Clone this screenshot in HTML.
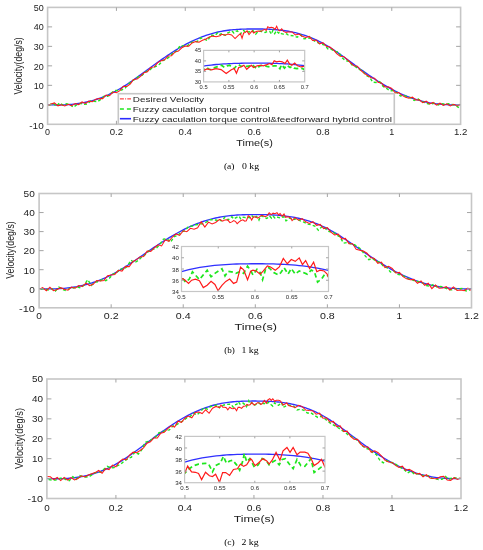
<!DOCTYPE html>
<html><head><meta charset="utf-8"><title>Velocity plots</title>
<style>html,body{margin:0;padding:0;background:#fff;width:483px;height:550px;overflow:hidden}svg{display:block}text{fill:#1c1c1c}</style>
</head><body>
<svg width="483" height="550" viewBox="0 0 483 550">
<rect width="483" height="550" fill="#fff"/>
<clipPath id="c1"><rect x="47.60" y="7.40" width="413.00" height="116.90"/></clipPath>
<g clip-path="url(#c1)">
<path d="M47.60,104.70 L49.32,104.79 L51.04,104.86 L52.76,104.91 L54.48,104.95 L56.20,104.98 L57.92,104.99 L59.65,104.98 L61.37,104.95 L63.09,104.90 L64.81,104.83 L66.53,104.75 L68.25,104.64 L69.97,104.51 L71.69,104.36 L73.41,104.18 L75.13,103.99 L76.85,103.76 L78.58,103.52 L80.30,103.25 L82.02,102.95 L83.74,102.62 L85.46,102.27 L87.18,101.89 L88.90,101.49 L90.62,101.05 L92.34,100.58 L94.06,100.09 L95.78,99.56 L97.50,99.01 L99.22,98.42 L100.95,97.80 L102.67,97.15 L104.39,96.47 L106.11,95.75 L107.83,95.00 L109.55,94.22 L111.27,93.40 L112.99,92.55 L114.71,91.66 L116.43,90.73 L118.15,89.77 L119.88,88.77 L121.60,87.74 L123.32,86.68 L125.04,85.59 L126.76,84.48 L128.48,83.34 L130.20,82.18 L131.92,81.00 L133.64,79.80 L135.36,78.59 L137.08,77.36 L138.80,76.12 L140.53,74.87 L142.25,73.61 L143.97,72.35 L145.69,71.09 L147.41,69.82 L149.13,68.55 L150.85,67.29 L152.57,66.03 L154.29,64.78 L156.01,63.54 L157.73,62.30 L159.45,61.08 L161.18,59.86 L162.90,58.66 L164.62,57.46 L166.34,56.29 L168.06,55.13 L169.78,53.98 L171.50,52.85 L173.22,51.75 L174.94,50.66 L176.66,49.59 L178.38,48.54 L180.10,47.52 L181.82,46.52 L183.55,45.55 L185.27,44.60 L186.99,43.68 L188.71,42.79 L190.43,41.93 L192.15,41.09 L193.87,40.29 L195.59,39.51 L197.31,38.76 L199.03,38.04 L200.75,37.34 L202.47,36.68 L204.20,36.05 L205.92,35.44 L207.64,34.86 L209.36,34.32 L211.08,33.80 L212.80,33.31 L214.52,32.85 L216.24,32.43 L217.96,32.03 L219.68,31.66 L221.40,31.32 L223.12,31.01 L224.85,30.73 L226.57,30.48 L228.29,30.25 L230.01,30.04 L231.73,29.86 L233.45,29.69 L235.17,29.55 L236.89,29.43 L238.61,29.32 L240.33,29.24 L242.05,29.16 L243.78,29.10 L245.50,29.05 L247.22,29.02 L248.94,28.99 L250.66,28.97 L252.38,28.96 L254.10,28.96 L255.82,28.96 L257.54,28.97 L259.26,28.98 L260.98,29.00 L262.70,29.03 L264.43,29.07 L266.15,29.13 L267.87,29.19 L269.59,29.27 L271.31,29.36 L273.03,29.47 L274.75,29.59 L276.47,29.73 L278.19,29.89 L279.91,30.07 L281.63,30.27 L283.35,30.49 L285.08,30.73 L286.80,31.00 L288.52,31.29 L290.24,31.60 L291.96,31.94 L293.68,32.31 L295.40,32.71 L297.12,33.13 L298.84,33.59 L300.56,34.07 L302.28,34.58 L304.00,35.13 L305.73,35.70 L307.45,36.31 L309.17,36.95 L310.89,37.63 L312.61,38.33 L314.33,39.08 L316.05,39.85 L317.77,40.67 L319.49,41.52 L321.21,42.41 L322.93,43.34 L324.65,44.30 L326.38,45.30 L328.10,46.34 L329.82,47.41 L331.54,48.51 L333.26,49.63 L334.98,50.78 L336.70,51.95 L338.42,53.14 L340.14,54.35 L341.86,55.58 L343.58,56.82 L345.30,58.07 L347.03,59.33 L348.75,60.59 L350.47,61.86 L352.19,63.13 L353.91,64.41 L355.63,65.67 L357.35,66.93 L359.07,68.19 L360.79,69.44 L362.51,70.67 L364.23,71.90 L365.95,73.11 L367.68,74.32 L369.40,75.51 L371.12,76.68 L372.84,77.84 L374.56,78.98 L376.28,80.11 L378.00,81.22 L379.72,82.31 L381.44,83.37 L383.16,84.42 L384.88,85.45 L386.60,86.45 L388.33,87.43 L390.05,88.38 L391.77,89.30 L393.49,90.20 L395.21,91.08 L396.93,91.92 L398.65,92.74 L400.37,93.53 L402.09,94.30 L403.81,95.03 L405.53,95.74 L407.25,96.43 L408.98,97.08 L410.70,97.71 L412.42,98.31 L414.14,98.88 L415.86,99.42 L417.58,99.94 L419.30,100.43 L421.02,100.89 L422.74,101.33 L424.46,101.73 L426.18,102.11 L427.90,102.46 L429.63,102.79 L431.35,103.08 L433.07,103.35 L434.79,103.60 L436.51,103.82 L438.23,104.02 L439.95,104.20 L441.67,104.35 L443.39,104.49 L445.11,104.60 L446.83,104.69 L448.55,104.77 L450.28,104.83 L452.00,104.86 L453.72,104.89 L455.44,104.89 L457.16,104.89 L458.88,104.86 L460.60,104.83" stroke="#3030ff" stroke-width="1.35" fill="none"/>
<path d="M49.32,105.50 L52.76,102.73 L56.20,106.17 L59.65,102.85 L63.09,105.18 L66.53,103.74 L69.97,104.71 L73.41,107.23 L76.85,104.80 L80.30,103.38 L83.74,104.45 L87.18,103.99 L90.62,101.09 L94.06,101.41 L97.50,101.66 L100.95,99.25 L104.39,96.06 L107.83,96.27 L111.27,92.97 L114.71,90.54 L118.15,90.53 L121.60,89.97 L125.04,88.07 L128.48,84.29 L131.92,80.87 L135.36,79.25 L138.80,76.48 L142.25,75.23 L145.69,71.83 L149.13,70.28 L152.57,67.63 L156.01,66.37 L159.45,64.30 L162.90,60.60 L166.34,59.05 L169.78,56.61 L173.22,52.43 L176.66,51.28 L180.10,45.55 L183.55,46.07 L186.99,46.17 L190.43,42.74 L193.87,41.67 L197.31,41.47 L200.75,37.91 L204.20,38.99 L207.64,40.68 L211.08,34.97 L214.52,35.83 L217.96,32.50 L219.95,34.62 L221.88,33.03 L223.44,34.62 L225.37,35.15 L227.31,33.03 L230.03,31.98 L231.97,30.92 L233.90,33.03 L235.84,31.45 L237.39,30.92 L239.33,33.03 L240.50,34.09 L242.05,31.45 L243.60,30.39 L245.15,31.98 L246.70,31.45 L249.03,31.98 L251.35,31.45 L252.90,30.39 L255.74,34.09 L258.06,31.45 L260.39,30.92 L262.72,31.98 L265.04,32.50 L267.37,31.45 L269.70,31.45 L271.63,34.09 L272.80,30.39 L274.74,33.56 L276.29,30.92 L278.61,33.03 L279.78,31.98 L281.33,33.56 L283.27,34.09 L285.21,33.56 L287.14,34.09 L288.31,35.15 L293.68,35.86 L297.12,37.21 L300.56,34.68 L304.00,38.84 L307.45,38.34 L310.89,38.01 L314.33,40.98 L317.77,42.70 L321.21,44.10 L324.65,45.01 L328.10,49.03 L331.54,49.42 L334.98,51.71 L338.42,51.88 L341.86,57.56 L345.30,60.72 L348.75,61.19 L352.19,65.09 L355.63,66.75 L359.07,69.42 L362.51,70.60 L365.95,75.25 L369.40,76.91 L372.84,82.23 L376.28,82.43 L379.72,81.61 L383.16,86.41 L386.60,88.43 L390.05,90.96 L393.49,90.55 L396.93,92.72 L400.37,95.98 L403.81,95.17 L407.25,97.02 L410.70,97.67 L414.14,100.52 L417.58,98.62 L421.02,101.17 L424.46,102.62 L427.90,103.81 L431.35,104.06 L434.79,103.19 L438.23,104.96 L441.67,103.61 L445.11,104.43 L448.55,103.63 L452.00,104.34 L455.44,105.41 L458.88,107.61" stroke="#1ee61e" stroke-width="1.4" fill="none" stroke-dasharray="3,2.2"/>
<path d="M47.60,105.56 L51.04,103.98 L54.48,102.92 L57.92,105.85 L61.37,104.71 L64.81,105.90 L68.25,104.27 L71.69,105.72 L75.13,103.49 L78.58,104.56 L82.02,101.96 L85.46,103.39 L88.90,101.16 L92.34,101.72 L95.78,99.16 L99.22,98.46 L102.67,98.60 L106.11,94.99 L109.55,95.75 L112.99,92.03 L116.43,92.73 L119.88,90.69 L123.32,86.26 L126.76,86.43 L130.20,84.17 L133.64,79.50 L137.08,79.06 L140.53,76.46 L143.97,72.64 L147.41,71.71 L150.85,67.58 L154.29,66.89 L157.73,62.57 L161.18,60.76 L164.62,59.77 L168.06,55.99 L171.50,55.70 L174.94,52.10 L178.38,51.08 L181.82,47.77 L185.27,46.10 L188.71,46.24 L192.15,42.92 L195.59,41.61 L199.03,42.16 L202.47,40.21 L205.92,39.06 L209.36,36.98 L212.80,36.11 L216.24,36.72 L219.95,35.67 L221.88,34.30 L224.99,35.15 L228.09,34.09 L231.58,34.94 L235.07,38.53 L238.56,35.15 L240.50,33.88 L242.05,38.32 L243.60,33.03 L245.15,32.50 L247.09,30.92 L249.03,34.62 L252.13,30.92 L253.68,33.03 L256.13,31.45 L258.45,30.92 L260.39,31.45 L262.72,30.39 L264.66,29.33 L266.21,30.39 L267.76,26.69 L269.31,27.75 L271.25,27.22 L273.19,27.75 L275.12,29.33 L276.68,26.16 L278.23,29.86 L279.78,30.92 L281.72,28.81 L283.65,31.45 L285.98,32.50 L287.92,31.98 L291.96,31.96 L295.40,34.94 L298.84,33.96 L302.28,36.19 L305.73,37.54 L309.17,36.41 L312.61,40.44 L316.05,40.02 L319.49,43.79 L322.93,42.64 L326.38,46.28 L329.82,46.99 L333.26,49.64 L336.70,53.64 L340.14,56.20 L343.58,56.40 L347.03,59.45 L350.47,62.75 L353.91,65.65 L357.35,66.13 L360.79,70.46 L364.23,73.36 L367.68,75.49 L371.12,77.69 L374.56,78.26 L378.00,82.24 L381.44,82.97 L384.88,86.92 L388.33,86.86 L391.77,88.42 L395.21,92.96 L398.65,92.49 L402.09,95.36 L405.53,97.25 L408.98,98.24 L412.42,97.15 L415.86,99.97 L419.30,99.90 L422.74,102.65 L426.18,101.18 L429.63,103.86 L433.07,102.42 L436.51,105.20 L439.95,103.22 L443.39,105.49 L446.83,103.81 L450.28,105.92 L453.72,104.22 L457.16,105.95 L460.60,103.83" stroke="#ff1a1a" stroke-width="1.05" fill="none"/>
</g>
<rect x="47.60" y="7.40" width="413.00" height="116.90" fill="none" stroke="#c6c6c6" stroke-width="1.6"/>
<path d="M116.43,124.30v-3.51M116.43,7.40v3.51M185.27,124.30v-3.51M185.27,7.40v3.51M254.10,124.30v-3.51M254.10,7.40v3.51M322.93,124.30v-3.51M322.93,7.40v3.51M391.77,124.30v-3.51M391.77,7.40v3.51M47.60,104.82h4.5M460.60,104.82h-4.5M47.60,85.33h4.5M460.60,85.33h-4.5M47.60,65.85h4.5M460.60,65.85h-4.5M47.60,46.37h4.5M460.60,46.37h-4.5M47.60,26.88h4.5M460.60,26.88h-4.5" stroke="#a4a4a4" stroke-width="1.0" fill="none"/>
<text x="43.70" y="128.86" font-size="8.4" text-anchor="end" textLength="14.40" lengthAdjust="spacingAndGlyphs" font-family='"Liberation Sans", Arial, sans-serif'>-10</text>
<text x="43.70" y="109.18" font-size="8.4" text-anchor="end" textLength="5.00" lengthAdjust="spacingAndGlyphs" font-family='"Liberation Sans", Arial, sans-serif'>0</text>
<text x="43.70" y="89.49" font-size="8.4" text-anchor="end" textLength="10.00" lengthAdjust="spacingAndGlyphs" font-family='"Liberation Sans", Arial, sans-serif'>10</text>
<text x="43.70" y="69.81" font-size="8.4" text-anchor="end" textLength="10.00" lengthAdjust="spacingAndGlyphs" font-family='"Liberation Sans", Arial, sans-serif'>20</text>
<text x="43.70" y="50.13" font-size="8.4" text-anchor="end" textLength="10.00" lengthAdjust="spacingAndGlyphs" font-family='"Liberation Sans", Arial, sans-serif'>30</text>
<text x="43.70" y="30.44" font-size="8.4" text-anchor="end" textLength="10.00" lengthAdjust="spacingAndGlyphs" font-family='"Liberation Sans", Arial, sans-serif'>40</text>
<text x="43.70" y="10.76" font-size="8.4" text-anchor="end" textLength="10.00" lengthAdjust="spacingAndGlyphs" font-family='"Liberation Sans", Arial, sans-serif'>50</text>
<text x="47.60" y="135.20" font-size="8.4" text-anchor="middle" textLength="5.00" lengthAdjust="spacingAndGlyphs" font-family='"Liberation Sans", Arial, sans-serif'>0</text>
<text x="116.43" y="135.20" font-size="8.4" text-anchor="middle" textLength="13.40" lengthAdjust="spacingAndGlyphs" font-family='"Liberation Sans", Arial, sans-serif'>0.2</text>
<text x="185.27" y="135.20" font-size="8.4" text-anchor="middle" textLength="13.40" lengthAdjust="spacingAndGlyphs" font-family='"Liberation Sans", Arial, sans-serif'>0.4</text>
<text x="254.10" y="135.20" font-size="8.4" text-anchor="middle" textLength="13.40" lengthAdjust="spacingAndGlyphs" font-family='"Liberation Sans", Arial, sans-serif'>0.6</text>
<text x="322.93" y="135.20" font-size="8.4" text-anchor="middle" textLength="13.40" lengthAdjust="spacingAndGlyphs" font-family='"Liberation Sans", Arial, sans-serif'>0.8</text>
<text x="391.77" y="135.20" font-size="8.4" text-anchor="middle" textLength="5.00" lengthAdjust="spacingAndGlyphs" font-family='"Liberation Sans", Arial, sans-serif'>1</text>
<text x="460.60" y="135.20" font-size="8.4" text-anchor="middle" textLength="13.40" lengthAdjust="spacingAndGlyphs" font-family='"Liberation Sans", Arial, sans-serif'>1.2</text>
<text x="236.20" y="145.90" font-size="8.9" textLength="36.70" lengthAdjust="spacingAndGlyphs" font-family='"Liberation Sans", Arial, sans-serif'>Time(s)</text>
<text transform="translate(22.40,94.50) rotate(-90)" font-size="10.8" textLength="57.20" lengthAdjust="spacingAndGlyphs" font-family='"Liberation Sans", Arial, sans-serif'>Velocity(deg/s)</text>
<text x="223.90" y="168.70" font-size="8.8" textLength="10.60" lengthAdjust="spacingAndGlyphs" font-family='"Liberation Serif", "Times New Roman", serif' style="fill:#000">(a)</text>
<text x="242.00" y="168.70" font-size="8.8" textLength="17.10" lengthAdjust="spacingAndGlyphs" font-family='"Liberation Serif", "Times New Roman", serif' style="fill:#000">0 kg</text>
<rect x="203.60" y="50.40" width="101.10" height="31.50" fill="#fff" stroke="none"/>
<clipPath id="ic1"><rect x="203.60" y="50.40" width="101.10" height="31.50"/></clipPath>
<g clip-path="url(#ic1)">
<path d="M203.60,66.05 L206.13,65.68 L208.66,65.35 L211.18,65.05 L213.71,64.77 L216.24,64.52 L218.77,64.30 L221.29,64.11 L223.82,63.93 L226.35,63.78 L228.88,63.64 L231.40,63.53 L233.93,63.44 L236.46,63.36 L238.98,63.29 L241.51,63.24 L244.04,63.20 L246.57,63.17 L249.09,63.15 L251.62,63.14 L254.15,63.14 L256.68,63.14 L259.20,63.14 L261.73,63.16 L264.26,63.18 L266.79,63.22 L269.31,63.26 L271.84,63.32 L274.37,63.39 L276.90,63.47 L279.42,63.57 L281.95,63.69 L284.48,63.82 L287.01,63.97 L289.53,64.14 L292.06,64.33 L294.59,64.55 L297.12,64.79 L299.64,65.05 L302.17,65.33 L304.70,65.65" stroke="#3030ff" stroke-width="1.3" fill="none"/>
<path d="M201.07,66.96 L203.99,69.24 L206.83,67.53 L209.11,69.24 L211.96,69.81 L214.81,67.53 L218.79,66.39 L221.64,65.25 L224.49,67.53 L227.33,65.82 L229.61,65.25 L232.46,67.53 L234.17,68.67 L236.45,65.82 L238.72,64.68 L241.00,66.39 L243.28,65.82 L246.70,66.39 L250.11,65.82 L252.39,64.68 L256.56,68.67 L259.97,65.82 L263.39,65.25 L266.81,66.39 L270.22,66.96 L273.64,65.82 L277.06,65.82 L279.90,68.67 L281.61,64.68 L284.46,68.10 L286.74,65.25 L290.15,67.53 L291.86,66.39 L294.14,68.10 L296.99,68.67 L299.84,68.10 L302.68,68.67 L304.39,69.81" stroke="#1ee61e" stroke-width="1.7" fill="none" stroke-dasharray="4.5,3"/>
<path d="M198.54,71.50 L203.99,70.38 L206.83,68.90 L211.39,69.81 L215.95,68.67 L221.07,69.58 L226.20,73.45 L231.32,69.81 L234.17,68.44 L236.45,73.22 L238.72,67.53 L241.00,66.96 L243.85,65.25 L246.70,69.24 L251.25,65.25 L253.53,67.53 L257.13,65.82 L260.54,65.25 L263.39,65.82 L266.81,64.68 L269.65,63.54 L271.93,64.68 L274.21,60.69 L276.49,61.83 L279.33,61.26 L282.18,61.83 L285.03,63.54 L287.31,60.13 L289.59,64.11 L291.86,65.25 L294.71,62.97 L297.56,65.82 L300.97,66.96 L303.82,66.39 L309.75,66.38" stroke="#ff1a1a" stroke-width="1.2" fill="none"/>
</g>
<rect x="203.60" y="50.40" width="101.10" height="31.50" fill="none" stroke="#c6c6c6" stroke-width="1.2"/>
<path d="M228.88,81.90v-1.95M228.88,50.40v1.95M254.15,81.90v-1.95M254.15,50.40v1.95M279.43,81.90v-1.95M279.43,50.40v1.95M203.60,71.40h2.5M304.70,71.40h-2.5M203.60,60.90h2.5M304.70,60.90h-2.5" stroke="#a4a4a4" stroke-width="1.0" fill="none"/>
<text x="201.20" y="83.94" font-size="5.1" text-anchor="end" textLength="6.40" lengthAdjust="spacingAndGlyphs" font-family='"Liberation Sans", Arial, sans-serif' style="stroke:none;fill:#2a2a2a">30</text>
<text x="201.20" y="73.44" font-size="5.1" text-anchor="end" textLength="6.40" lengthAdjust="spacingAndGlyphs" font-family='"Liberation Sans", Arial, sans-serif' style="stroke:none;fill:#2a2a2a">35</text>
<text x="201.20" y="62.94" font-size="5.1" text-anchor="end" textLength="6.40" lengthAdjust="spacingAndGlyphs" font-family='"Liberation Sans", Arial, sans-serif' style="stroke:none;fill:#2a2a2a">40</text>
<text x="201.20" y="52.44" font-size="5.1" text-anchor="end" textLength="6.40" lengthAdjust="spacingAndGlyphs" font-family='"Liberation Sans", Arial, sans-serif' style="stroke:none;fill:#2a2a2a">45</text>
<text x="203.60" y="88.90" font-size="5.1" text-anchor="middle" textLength="8.00" lengthAdjust="spacingAndGlyphs" font-family='"Liberation Sans", Arial, sans-serif' style="stroke:none;fill:#2a2a2a">0.5</text>
<text x="228.88" y="88.90" font-size="5.1" text-anchor="middle" textLength="11.20" lengthAdjust="spacingAndGlyphs" font-family='"Liberation Sans", Arial, sans-serif' style="stroke:none;fill:#2a2a2a">0.55</text>
<text x="254.15" y="88.90" font-size="5.1" text-anchor="middle" textLength="8.00" lengthAdjust="spacingAndGlyphs" font-family='"Liberation Sans", Arial, sans-serif' style="stroke:none;fill:#2a2a2a">0.6</text>
<text x="279.43" y="88.90" font-size="5.1" text-anchor="middle" textLength="11.20" lengthAdjust="spacingAndGlyphs" font-family='"Liberation Sans", Arial, sans-serif' style="stroke:none;fill:#2a2a2a">0.65</text>
<text x="304.70" y="88.90" font-size="5.1" text-anchor="middle" textLength="8.00" lengthAdjust="spacingAndGlyphs" font-family='"Liberation Sans", Arial, sans-serif' style="stroke:none;fill:#2a2a2a">0.7</text>
<rect x="118.3" y="93.7" width="276.00" height="30.40" fill="#fff" stroke="#c6c6c6" stroke-width="1.6"/>
<path d="M119.9,98.9H131" stroke="#ff1a1a" stroke-width="1.0" stroke-dasharray="4,1.2,1,1.2"/>
<text x="132.80" y="101.90" font-size="8.0" textLength="71.30" lengthAdjust="spacingAndGlyphs" font-family='"Liberation Sans", Arial, sans-serif'>Desired Velocity</text>
<path d="M119.9,109.0H131" stroke="#1ee61e" stroke-width="1.4" stroke-dasharray="4,3"/>
<text x="132.80" y="112.00" font-size="8.0" textLength="136.80" lengthAdjust="spacingAndGlyphs" font-family='"Liberation Sans", Arial, sans-serif'>Fuzzy caculation torque control</text>
<path d="M119.9,118.7H131" stroke="#2b2bff" stroke-width="1.6"/>
<text x="132.80" y="121.70" font-size="8.0" textLength="259.10" lengthAdjust="spacingAndGlyphs" font-family='"Liberation Sans", Arial, sans-serif'>Fuzzy caculation torque control&amp;feedforward hybrid control</text>
<clipPath id="c2"><rect x="39.10" y="193.50" width="432.40" height="114.30"/></clipPath>
<g clip-path="url(#c2)">
<path d="M39.10,288.64 L40.90,288.72 L42.70,288.79 L44.51,288.85 L46.31,288.89 L48.11,288.91 L49.91,288.92 L51.71,288.91 L53.51,288.88 L55.31,288.83 L57.12,288.77 L58.92,288.68 L60.72,288.58 L62.52,288.45 L64.32,288.30 L66.12,288.13 L67.93,287.94 L69.73,287.72 L71.53,287.48 L73.33,287.21 L75.13,286.92 L76.94,286.61 L78.74,286.26 L80.54,285.89 L82.34,285.49 L84.14,285.07 L85.94,284.61 L87.75,284.13 L89.55,283.61 L91.35,283.07 L93.15,282.50 L94.95,281.89 L96.75,281.26 L98.56,280.59 L100.36,279.89 L102.16,279.16 L103.96,278.39 L105.76,277.59 L107.56,276.75 L109.37,275.88 L111.17,274.98 L112.97,274.04 L114.77,273.06 L116.57,272.06 L118.37,271.02 L120.18,269.96 L121.98,268.87 L123.78,267.75 L125.58,266.62 L127.38,265.46 L129.18,264.29 L130.99,263.10 L132.79,261.90 L134.59,260.69 L136.39,259.47 L138.19,258.24 L139.99,257.01 L141.80,255.77 L143.60,254.53 L145.40,253.29 L147.20,252.06 L149.00,250.83 L150.80,249.61 L152.60,248.39 L154.41,247.18 L156.21,245.98 L158.01,244.79 L159.81,243.62 L161.61,242.45 L163.41,241.30 L165.22,240.17 L167.02,239.05 L168.82,237.94 L170.62,236.86 L172.42,235.79 L174.22,234.75 L176.03,233.73 L177.83,232.73 L179.63,231.75 L181.43,230.80 L183.23,229.87 L185.04,228.97 L186.84,228.10 L188.64,227.26 L190.44,226.44 L192.24,225.65 L194.04,224.89 L195.84,224.16 L197.65,223.46 L199.45,222.78 L201.25,222.13 L203.05,221.51 L204.85,220.92 L206.66,220.35 L208.46,219.82 L210.26,219.31 L212.06,218.84 L213.86,218.39 L215.66,217.97 L217.46,217.58 L219.27,217.22 L221.07,216.89 L222.87,216.59 L224.67,216.31 L226.47,216.06 L228.28,215.84 L230.08,215.64 L231.88,215.46 L233.68,215.30 L235.48,215.16 L237.28,215.04 L239.09,214.94 L240.89,214.85 L242.69,214.78 L244.49,214.72 L246.29,214.67 L248.09,214.64 L249.89,214.61 L251.70,214.59 L253.50,214.58 L255.30,214.58 L257.10,214.58 L258.90,214.59 L260.70,214.60 L262.51,214.62 L264.31,214.65 L266.11,214.69 L267.91,214.74 L269.71,214.81 L271.51,214.88 L273.32,214.97 L275.12,215.08 L276.92,215.20 L278.72,215.34 L280.52,215.49 L282.33,215.67 L284.13,215.86 L285.93,216.07 L287.73,216.31 L289.53,216.57 L291.33,216.86 L293.13,217.16 L294.94,217.50 L296.74,217.86 L298.54,218.25 L300.34,218.66 L302.14,219.11 L303.94,219.58 L305.75,220.08 L307.55,220.61 L309.35,221.17 L311.15,221.77 L312.95,222.39 L314.76,223.05 L316.56,223.75 L318.36,224.47 L320.16,225.23 L321.96,226.03 L323.76,226.86 L325.56,227.73 L327.37,228.64 L329.17,229.58 L330.97,230.56 L332.77,231.57 L334.57,232.62 L336.38,233.69 L338.18,234.79 L339.98,235.91 L341.78,237.06 L343.58,238.23 L345.38,239.41 L347.19,240.61 L348.99,241.82 L350.79,243.04 L352.59,244.27 L354.39,245.51 L356.19,246.75 L358.00,248.00 L359.80,249.24 L361.60,250.48 L363.40,251.71 L365.20,252.94 L367.00,254.16 L368.81,255.37 L370.61,256.57 L372.41,257.75 L374.21,258.93 L376.01,260.09 L377.81,261.24 L379.62,262.37 L381.42,263.49 L383.22,264.59 L385.02,265.68 L386.82,266.74 L388.62,267.78 L390.43,268.81 L392.23,269.81 L394.03,270.79 L395.83,271.75 L397.63,272.68 L399.43,273.58 L401.24,274.46 L403.04,275.32 L404.84,276.14 L406.64,276.94 L408.44,277.72 L410.24,278.46 L412.04,279.18 L413.85,279.88 L415.65,280.55 L417.45,281.19 L419.25,281.80 L421.05,282.39 L422.86,282.94 L424.66,283.48 L426.46,283.98 L428.26,284.46 L430.06,284.91 L431.86,285.34 L433.67,285.73 L435.47,286.10 L437.27,286.45 L439.07,286.76 L440.87,287.05 L442.67,287.32 L444.48,287.56 L446.28,287.78 L448.08,287.97 L449.88,288.15 L451.68,288.30 L453.48,288.43 L455.29,288.54 L457.09,288.63 L458.89,288.70 L460.69,288.76 L462.49,288.80 L464.29,288.82 L466.10,288.83 L467.90,288.82 L469.70,288.79 L471.50,288.76" stroke="#3030ff" stroke-width="1.35" fill="none"/>
<path d="M40.90,289.40 L44.51,288.52 L48.11,289.92 L51.71,288.66 L55.31,291.17 L58.92,287.07 L62.52,289.40 L66.12,290.59 L69.73,288.35 L73.33,288.08 L76.94,286.80 L80.54,287.90 L84.14,285.00 L87.74,279.67 L91.35,285.38 L94.95,282.02 L98.55,281.64 L102.16,279.56 L105.76,280.78 L109.36,278.20 L112.97,274.19 L116.57,272.93 L120.18,268.57 L123.78,269.61 L127.38,266.16 L130.98,260.08 L134.59,262.75 L138.19,260.53 L141.79,256.90 L145.40,254.48 L149.00,250.84 L152.60,249.43 L156.21,248.29 L159.81,244.65 L163.41,239.05 L167.02,238.72 L170.62,242.15 L174.22,236.47 L177.83,235.50 L181.43,231.57 L185.03,230.89 L188.64,226.34 L192.24,226.16 L195.84,224.77 L199.45,224.40 L203.05,223.51 L206.65,221.91 L210.26,219.63 L213.86,219.83 L217.46,220.31 L219.29,218.98 L221.20,220.82 L223.10,219.77 L224.62,217.30 L226.14,218.46 L228.05,219.93 L229.95,218.35 L231.85,216.77 L233.76,218.98 L235.66,217.82 L239.09,216.25 L240.61,218.72 L242.13,217.14 L244.41,217.40 L245.94,217.82 L247.84,217.30 L249.74,217.82 L251.65,215.41 L253.17,216.88 L254.32,218.37 L256.27,216.48 L257.84,217.56 L259.01,219.99 L260.57,216.21 L262.14,215.94 L264.48,217.56 L266.83,218.37 L268.00,217.56 L269.57,215.94 L271.52,218.10 L273.09,216.21 L275.04,218.10 L276.99,217.02 L278.95,217.56 L280.90,218.10 L282.86,216.75 L284.42,217.29 L285.99,220.80 L287.94,219.72 L289.50,218.10 L291.07,218.64 L292.09,219.72 L296.74,218.80 L300.34,220.97 L303.94,222.14 L307.55,224.04 L311.15,224.77 L314.76,226.04 L318.36,230.30 L321.96,226.52 L325.56,228.73 L329.17,231.57 L332.77,231.80 L336.38,234.72 L339.98,237.00 L343.58,243.19 L347.19,242.46 L350.79,243.81 L354.39,244.77 L358.00,246.90 L361.60,249.92 L365.20,255.90 L368.81,259.71 L372.41,258.27 L376.01,261.32 L379.62,262.28 L383.22,265.96 L386.82,267.60 L390.43,272.00 L394.03,271.27 L397.63,274.35 L401.24,275.01 L404.84,276.51 L408.44,278.84 L412.05,279.68 L415.65,281.46 L419.25,281.62 L422.86,283.09 L426.46,285.53 L430.06,286.48 L433.67,284.07 L437.27,287.28 L440.87,286.36 L444.48,287.65 L448.08,289.35 L451.68,289.89 L455.29,288.91 L458.89,288.85 L462.49,288.42 L466.10,290.99 L469.70,290.01" stroke="#1ee61e" stroke-width="1.4" fill="none" stroke-dasharray="3,2.2"/>
<path d="M39.10,289.37 L42.70,287.62 L46.31,290.68 L49.91,287.12 L53.51,290.69 L57.12,289.49 L60.72,287.70 L64.32,289.29 L67.93,290.25 L71.53,287.03 L75.13,288.13 L78.74,285.55 L82.34,286.48 L85.94,283.17 L89.55,285.56 L93.15,284.34 L96.75,280.48 L100.36,281.06 L103.96,280.42 L107.56,275.79 L111.17,275.04 L114.77,274.42 L118.37,270.35 L121.98,271.09 L125.58,266.36 L129.18,266.59 L132.79,261.67 L136.39,259.61 L139.99,256.90 L143.60,256.58 L147.20,251.09 L150.80,251.38 L154.41,247.74 L158.01,244.75 L161.61,245.91 L165.22,239.84 L168.82,241.25 L172.42,237.02 L176.03,233.94 L179.63,235.41 L183.23,230.77 L186.84,231.69 L190.44,228.33 L194.04,229.25 L197.65,227.81 L201.25,221.83 L204.85,227.00 L208.46,222.13 L212.06,224.00 L215.66,222.49 L219.29,219.51 L220.82,220.03 L222.72,221.24 L224.24,220.14 L226.14,219.77 L228.05,220.30 L229.95,222.66 L231.85,221.87 L233.76,220.56 L235.66,221.61 L237.18,223.71 L239.09,221.87 L240.99,220.56 L242.89,219.77 L244.79,221.24 L246.32,220.82 L248.22,215.72 L249.74,216.61 L251.65,220.03 L253.17,217.14 L254.32,216.75 L255.88,217.02 L257.84,218.10 L259.40,217.02 L261.36,215.29 L262.92,215.67 L265.27,216.75 L267.22,215.67 L269.18,212.81 L271.13,214.59 L273.09,213.13 L275.04,213.78 L276.99,212.59 L278.56,214.86 L280.12,213.51 L282.08,216.21 L284.03,214.05 L285.60,217.29 L287.16,216.75 L289.11,217.02 L290.68,218.10 L292.09,220.53 L294.94,217.69 L298.54,220.24 L302.14,218.66 L305.75,221.83 L309.35,223.39 L312.95,221.67 L316.56,225.32 L320.16,224.41 L323.76,228.54 L327.37,227.56 L330.97,232.08 L334.57,234.91 L338.18,234.16 L341.78,238.94 L345.38,238.36 L348.99,243.62 L352.59,243.83 L356.19,249.24 L359.80,250.34 L363.40,251.12 L367.00,253.21 L370.61,257.52 L374.21,258.56 L377.81,263.36 L381.42,262.12 L385.02,267.52 L388.62,266.21 L392.23,268.44 L395.83,273.02 L399.43,272.36 L403.04,276.63 L406.64,278.87 L410.24,279.81 L413.85,279.36 L417.45,283.27 L421.05,281.01 L424.66,285.33 L428.26,283.26 L431.86,288.60 L435.47,285.04 L439.07,288.28 L442.67,288.05 L446.28,286.51 L449.88,290.00 L453.48,286.90 L457.09,290.44 L460.69,290.08 L464.29,290.72 L467.90,288.15 L471.50,290.62" stroke="#ff1a1a" stroke-width="1.05" fill="none"/>
</g>
<rect x="39.10" y="193.50" width="432.40" height="114.30" fill="none" stroke="#c6c6c6" stroke-width="1.6"/>
<path d="M111.17,307.80v-3.51M111.17,193.50v3.51M183.23,307.80v-3.51M183.23,193.50v3.51M255.30,307.80v-3.51M255.30,193.50v3.51M327.37,307.80v-3.51M327.37,193.50v3.51M399.43,307.80v-3.51M399.43,193.50v3.51M39.10,288.75h4.5M471.50,288.75h-4.5M39.10,269.70h4.5M471.50,269.70h-4.5M39.10,250.65h4.5M471.50,250.65h-4.5M39.10,231.60h4.5M471.50,231.60h-4.5M39.10,212.55h4.5M471.50,212.55h-4.5" stroke="#a4a4a4" stroke-width="1.0" fill="none"/>
<text x="34.80" y="312.19" font-size="8.4" text-anchor="end" textLength="15.80" lengthAdjust="spacingAndGlyphs" font-family='"Liberation Sans", Arial, sans-serif'>-10</text>
<text x="34.80" y="292.94" font-size="8.4" text-anchor="end" textLength="5.60" lengthAdjust="spacingAndGlyphs" font-family='"Liberation Sans", Arial, sans-serif'>0</text>
<text x="34.80" y="273.69" font-size="8.4" text-anchor="end" textLength="11.20" lengthAdjust="spacingAndGlyphs" font-family='"Liberation Sans", Arial, sans-serif'>10</text>
<text x="34.80" y="254.44" font-size="8.4" text-anchor="end" textLength="11.20" lengthAdjust="spacingAndGlyphs" font-family='"Liberation Sans", Arial, sans-serif'>20</text>
<text x="34.80" y="235.19" font-size="8.4" text-anchor="end" textLength="11.20" lengthAdjust="spacingAndGlyphs" font-family='"Liberation Sans", Arial, sans-serif'>30</text>
<text x="34.80" y="215.94" font-size="8.4" text-anchor="end" textLength="11.20" lengthAdjust="spacingAndGlyphs" font-family='"Liberation Sans", Arial, sans-serif'>40</text>
<text x="34.80" y="196.69" font-size="8.4" text-anchor="end" textLength="11.20" lengthAdjust="spacingAndGlyphs" font-family='"Liberation Sans", Arial, sans-serif'>50</text>
<text x="39.10" y="319.20" font-size="8.4" text-anchor="middle" textLength="5.60" lengthAdjust="spacingAndGlyphs" font-family='"Liberation Sans", Arial, sans-serif'>0</text>
<text x="111.17" y="319.20" font-size="8.4" text-anchor="middle" textLength="14.80" lengthAdjust="spacingAndGlyphs" font-family='"Liberation Sans", Arial, sans-serif'>0.2</text>
<text x="183.23" y="319.20" font-size="8.4" text-anchor="middle" textLength="14.80" lengthAdjust="spacingAndGlyphs" font-family='"Liberation Sans", Arial, sans-serif'>0.4</text>
<text x="255.30" y="319.20" font-size="8.4" text-anchor="middle" textLength="14.80" lengthAdjust="spacingAndGlyphs" font-family='"Liberation Sans", Arial, sans-serif'>0.6</text>
<text x="327.37" y="319.20" font-size="8.4" text-anchor="middle" textLength="14.80" lengthAdjust="spacingAndGlyphs" font-family='"Liberation Sans", Arial, sans-serif'>0.8</text>
<text x="399.43" y="319.20" font-size="8.4" text-anchor="middle" textLength="5.60" lengthAdjust="spacingAndGlyphs" font-family='"Liberation Sans", Arial, sans-serif'>1</text>
<text x="471.50" y="319.20" font-size="8.4" text-anchor="middle" textLength="14.80" lengthAdjust="spacingAndGlyphs" font-family='"Liberation Sans", Arial, sans-serif'>1.2</text>
<text x="234.40" y="330.40" font-size="8.9" textLength="42.60" lengthAdjust="spacingAndGlyphs" font-family='"Liberation Sans", Arial, sans-serif'>Time(s)</text>
<text transform="translate(13.70,278.80) rotate(-90)" font-size="10.8" textLength="57.50" lengthAdjust="spacingAndGlyphs" font-family='"Liberation Sans", Arial, sans-serif'>Velocity(deg/s)</text>
<text x="224.20" y="353.20" font-size="8.8" textLength="10.60" lengthAdjust="spacingAndGlyphs" font-family='"Liberation Serif", "Times New Roman", serif' style="fill:#000">(b)</text>
<text x="241.50" y="353.20" font-size="8.8" textLength="17.10" lengthAdjust="spacingAndGlyphs" font-family='"Liberation Serif", "Times New Roman", serif' style="fill:#000">1 kg</text>
<rect x="181.50" y="246.50" width="147.00" height="45.00" fill="#fff" stroke="none"/>
<clipPath id="ic2"><rect x="181.50" y="246.50" width="147.00" height="45.00"/></clipPath>
<g clip-path="url(#ic2)">
<path d="M181.50,271.54 L185.18,270.56 L188.85,269.67 L192.53,268.86 L196.20,268.12 L199.88,267.46 L203.55,266.86 L207.23,266.34 L210.90,265.87 L214.58,265.46 L218.25,265.10 L221.92,264.80 L225.60,264.54 L229.27,264.33 L232.95,264.15 L236.62,264.01 L240.30,263.91 L243.97,263.83 L247.65,263.78 L251.32,263.75 L255.00,263.74 L258.67,263.74 L262.35,263.76 L266.02,263.80 L269.70,263.87 L273.38,263.96 L277.05,264.08 L280.73,264.23 L284.40,264.41 L288.07,264.64 L291.75,264.90 L295.43,265.21 L299.10,265.57 L302.78,265.97 L306.45,266.43 L310.12,266.95 L313.80,267.52 L317.47,268.16 L321.15,268.86 L324.82,269.62 L328.50,270.46" stroke="#3030ff" stroke-width="1.3" fill="none"/>
<path d="M177.82,280.66 L181.55,276.74 L185.43,282.17 L189.32,279.07 L192.42,271.77 L195.53,275.19 L199.41,279.53 L203.29,274.88 L207.17,270.22 L211.06,276.74 L214.94,273.32 L221.93,268.66 L225.03,275.96 L228.14,271.30 L232.80,272.08 L235.90,273.32 L239.78,271.77 L243.66,273.32 L247.55,266.18 L250.65,270.53 L253.00,274.94 L256.99,269.35 L260.18,272.54 L262.57,279.72 L265.76,268.56 L268.95,267.76 L273.73,272.54 L278.52,274.94 L280.91,272.54 L284.10,267.76 L288.09,274.14 L291.28,268.56 L295.26,274.14 L299.25,270.95 L303.24,272.54 L307.23,274.14 L311.21,270.15 L314.40,271.75 L317.59,282.11 L321.58,278.92 L324.77,274.14 L327.96,275.73 L330.03,278.92" stroke="#1ee61e" stroke-width="1.7" fill="none" stroke-dasharray="4.5,3"/>
<path d="M174.15,287.09 L181.55,278.29 L184.66,279.84 L188.54,283.42 L191.65,280.16 L195.53,279.07 L199.41,280.62 L203.29,287.61 L207.17,285.28 L211.06,281.40 L214.94,284.50 L218.04,290.71 L221.93,285.28 L225.81,281.40 L229.69,279.07 L233.57,283.42 L236.68,282.17 L240.56,267.11 L243.66,269.75 L247.55,279.84 L250.65,271.30 L253.00,270.15 L256.19,270.95 L260.18,274.14 L263.37,270.95 L267.35,265.85 L270.54,266.96 L275.33,270.15 L279.32,266.96 L283.30,258.51 L287.29,263.77 L291.28,259.47 L295.26,261.38 L299.25,257.87 L302.44,264.57 L305.63,260.58 L309.62,268.56 L313.61,262.18 L316.80,271.75 L319.99,270.15 L323.97,270.95 L327.16,274.14 L330.03,281.32 L335.85,272.92" stroke="#ff1a1a" stroke-width="1.2" fill="none"/>
</g>
<rect x="181.50" y="246.50" width="147.00" height="45.00" fill="none" stroke="#c6c6c6" stroke-width="1.2"/>
<path d="M218.25,291.50v-1.95M218.25,246.50v1.95M255.00,291.50v-1.95M255.00,246.50v1.95M291.75,291.50v-1.95M291.75,246.50v1.95M181.50,280.25h2.5M328.50,280.25h-2.5M181.50,269.00h2.5M328.50,269.00h-2.5M181.50,257.75h2.5M328.50,257.75h-2.5" stroke="#a4a4a4" stroke-width="1.0" fill="none"/>
<text x="178.90" y="294.10" font-size="5.2" text-anchor="end" textLength="6.80" lengthAdjust="spacingAndGlyphs" font-family='"Liberation Sans", Arial, sans-serif' style="stroke:none;fill:#2a2a2a">34</text>
<text x="178.90" y="282.85" font-size="5.2" text-anchor="end" textLength="6.80" lengthAdjust="spacingAndGlyphs" font-family='"Liberation Sans", Arial, sans-serif' style="stroke:none;fill:#2a2a2a">36</text>
<text x="178.90" y="271.60" font-size="5.2" text-anchor="end" textLength="6.80" lengthAdjust="spacingAndGlyphs" font-family='"Liberation Sans", Arial, sans-serif' style="stroke:none;fill:#2a2a2a">38</text>
<text x="178.90" y="260.35" font-size="5.2" text-anchor="end" textLength="6.80" lengthAdjust="spacingAndGlyphs" font-family='"Liberation Sans", Arial, sans-serif' style="stroke:none;fill:#2a2a2a">40</text>
<text x="178.90" y="249.10" font-size="5.2" text-anchor="end" textLength="6.80" lengthAdjust="spacingAndGlyphs" font-family='"Liberation Sans", Arial, sans-serif' style="stroke:none;fill:#2a2a2a">42</text>
<text x="181.50" y="299.10" font-size="5.2" text-anchor="middle" textLength="8.50" lengthAdjust="spacingAndGlyphs" font-family='"Liberation Sans", Arial, sans-serif' style="stroke:none;fill:#2a2a2a">0.5</text>
<text x="218.25" y="299.10" font-size="5.2" text-anchor="middle" textLength="11.90" lengthAdjust="spacingAndGlyphs" font-family='"Liberation Sans", Arial, sans-serif' style="stroke:none;fill:#2a2a2a">0.55</text>
<text x="255.00" y="299.10" font-size="5.2" text-anchor="middle" textLength="8.50" lengthAdjust="spacingAndGlyphs" font-family='"Liberation Sans", Arial, sans-serif' style="stroke:none;fill:#2a2a2a">0.6</text>
<text x="291.75" y="299.10" font-size="5.2" text-anchor="middle" textLength="11.90" lengthAdjust="spacingAndGlyphs" font-family='"Liberation Sans", Arial, sans-serif' style="stroke:none;fill:#2a2a2a">0.65</text>
<text x="328.50" y="299.10" font-size="5.2" text-anchor="middle" textLength="8.50" lengthAdjust="spacingAndGlyphs" font-family='"Liberation Sans", Arial, sans-serif' style="stroke:none;fill:#2a2a2a">0.7</text>
<clipPath id="c3"><rect x="46.90" y="379.00" width="414.10" height="119.50"/></clipPath>
<g clip-path="url(#c3)">
<path d="M46.90,478.46 L48.63,478.55 L50.35,478.63 L52.08,478.68 L53.80,478.72 L55.53,478.75 L57.25,478.76 L58.98,478.75 L60.70,478.72 L62.43,478.67 L64.15,478.60 L65.88,478.51 L67.61,478.40 L69.33,478.27 L71.06,478.11 L72.78,477.94 L74.51,477.73 L76.23,477.51 L77.96,477.26 L79.68,476.98 L81.41,476.67 L83.13,476.34 L84.86,475.98 L86.58,475.59 L88.31,475.18 L90.04,474.73 L91.76,474.26 L93.49,473.75 L95.21,473.21 L96.94,472.65 L98.66,472.05 L100.39,471.41 L102.11,470.75 L103.84,470.05 L105.56,469.32 L107.29,468.55 L109.02,467.75 L110.74,466.91 L112.47,466.04 L114.19,465.13 L115.92,464.18 L117.64,463.20 L119.37,462.18 L121.09,461.13 L122.82,460.05 L124.54,458.93 L126.27,457.79 L127.99,456.63 L129.72,455.44 L131.45,454.24 L133.17,453.01 L134.90,451.77 L136.62,450.52 L138.35,449.25 L140.07,447.97 L141.80,446.69 L143.52,445.40 L145.25,444.10 L146.97,442.81 L148.70,441.51 L150.43,440.22 L152.15,438.94 L153.88,437.66 L155.60,436.39 L157.33,435.12 L159.05,433.87 L160.78,432.63 L162.50,431.40 L164.23,430.18 L165.95,428.98 L167.68,427.79 L169.40,426.62 L171.13,425.47 L172.86,424.33 L174.58,423.22 L176.31,422.13 L178.03,421.06 L179.76,420.01 L181.48,418.99 L183.21,418.00 L184.93,417.03 L186.66,416.09 L188.38,415.18 L190.11,414.30 L191.84,413.44 L193.56,412.62 L195.29,411.82 L197.01,411.06 L198.74,410.32 L200.46,409.61 L202.19,408.93 L203.91,408.28 L205.64,407.66 L207.36,407.08 L209.09,406.52 L210.81,405.99 L212.54,405.49 L214.27,405.02 L215.99,404.58 L217.72,404.18 L219.44,403.80 L221.17,403.45 L222.89,403.14 L224.62,402.85 L226.34,402.59 L228.07,402.35 L229.79,402.14 L231.52,401.96 L233.25,401.79 L234.97,401.65 L236.70,401.52 L238.42,401.41 L240.15,401.32 L241.87,401.25 L243.60,401.18 L245.32,401.13 L247.05,401.10 L248.77,401.07 L250.50,401.05 L252.22,401.04 L253.95,401.04 L255.68,401.04 L257.40,401.05 L259.13,401.06 L260.85,401.08 L262.58,401.11 L264.30,401.16 L266.03,401.21 L267.75,401.28 L269.48,401.36 L271.20,401.45 L272.93,401.56 L274.66,401.68 L276.38,401.83 L278.11,401.99 L279.83,402.17 L281.56,402.38 L283.28,402.60 L285.01,402.85 L286.73,403.12 L288.46,403.42 L290.18,403.74 L291.91,404.09 L293.63,404.47 L295.36,404.87 L297.09,405.31 L298.81,405.77 L300.54,406.26 L302.26,406.79 L303.99,407.34 L305.71,407.93 L307.44,408.55 L309.16,409.21 L310.89,409.90 L312.61,410.62 L314.34,411.38 L316.07,412.18 L317.79,413.01 L319.52,413.88 L321.24,414.79 L322.97,415.74 L324.69,416.72 L326.42,417.75 L328.14,418.81 L329.87,419.90 L331.59,421.02 L333.32,422.17 L335.04,423.34 L336.77,424.54 L338.50,425.76 L340.22,427.00 L341.95,428.25 L343.67,429.52 L345.40,430.80 L347.12,432.08 L348.85,433.38 L350.57,434.67 L352.30,435.97 L354.02,437.27 L355.75,438.57 L357.48,439.86 L359.20,441.14 L360.93,442.42 L362.65,443.68 L364.38,444.93 L366.10,446.18 L367.83,447.41 L369.55,448.62 L371.28,449.82 L373.00,451.01 L374.73,452.18 L376.45,453.33 L378.18,454.46 L379.91,455.57 L381.63,456.66 L383.36,457.73 L385.08,458.78 L386.81,459.81 L388.53,460.81 L390.26,461.78 L391.98,462.73 L393.71,463.65 L395.43,464.54 L397.16,465.40 L398.88,466.24 L400.61,467.05 L402.34,467.83 L404.06,468.58 L405.79,469.31 L407.51,470.01 L409.24,470.67 L410.96,471.32 L412.69,471.93 L414.41,472.51 L416.14,473.07 L417.86,473.60 L419.59,474.10 L421.32,474.57 L423.04,475.02 L424.77,475.43 L426.49,475.82 L428.22,476.18 L429.94,476.51 L431.67,476.81 L433.39,477.09 L435.12,477.34 L436.84,477.57 L438.57,477.77 L440.30,477.95 L442.02,478.11 L443.75,478.25 L445.47,478.36 L447.20,478.46 L448.92,478.53 L450.65,478.59 L452.37,478.63 L454.10,478.66 L455.82,478.66 L457.55,478.65 L459.27,478.63 L461.00,478.59" stroke="#3030ff" stroke-width="1.35" fill="none"/>
<path d="M48.63,479.57 L52.08,480.04 L55.53,480.09 L58.98,478.66 L62.43,477.78 L65.88,479.58 L69.33,480.69 L72.78,476.71 L76.23,479.37 L79.68,475.64 L83.13,476.84 L86.58,477.05 L90.04,476.15 L93.49,473.63 L96.94,471.95 L100.39,472.32 L103.84,469.35 L107.29,466.26 L110.74,467.95 L114.19,467.56 L117.64,465.53 L121.09,463.98 L124.54,460.75 L127.99,458.60 L131.45,457.11 L134.90,452.03 L138.35,454.05 L141.80,449.68 L145.25,442.35 L148.70,441.20 L152.15,439.41 L155.60,437.01 L159.05,432.66 L162.50,432.01 L165.95,430.30 L169.40,429.87 L172.86,425.98 L176.31,424.77 L179.76,422.67 L183.21,420.72 L186.66,417.91 L190.11,416.57 L193.56,413.23 L197.01,414.87 L200.46,411.82 L203.91,407.65 L207.36,409.13 L210.81,406.46 L214.27,405.66 L217.72,404.64 L219.42,407.66 L221.71,406.06 L224.00,404.99 L226.29,404.45 L229.72,404.19 L231.25,404.45 L233.16,407.13 L234.68,404.99 L236.97,404.19 L238.50,401.78 L240.03,404.19 L241.55,403.39 L243.08,403.12 L244.99,404.72 L246.52,406.59 L248.04,403.39 L248.81,400.87 L249.95,403.65 L251.48,402.58 L252.57,403.92 L253.72,405.52 L255.63,404.72 L257.54,402.58 L259.44,403.12 L260.97,404.72 L262.88,403.65 L264.02,403.23 L265.93,404.72 L267.46,402.85 L268.98,402.58 L270.89,404.45 L272.80,406.06 L274.71,402.85 L276.62,404.99 L278.53,405.26 L280.05,403.92 L281.58,402.58 L283.11,407.39 L284.63,406.59 L286.54,405.52 L288.45,404.99 L293.63,406.22 L297.09,409.98 L300.54,409.22 L303.99,410.34 L307.44,413.11 L310.89,412.77 L314.34,415.26 L317.79,417.37 L321.24,416.34 L324.69,418.56 L328.14,421.53 L331.59,424.09 L335.04,425.79 L338.50,427.96 L341.95,430.44 L345.40,432.44 L348.85,435.53 L352.30,436.92 L355.75,439.28 L359.20,442.06 L362.65,446.02 L366.10,448.42 L369.55,449.32 L373.00,452.58 L376.45,454.64 L379.91,460.36 L383.36,462.79 L386.81,460.47 L390.26,462.42 L393.71,462.73 L397.16,465.41 L400.61,467.74 L404.06,469.53 L407.51,472.99 L410.96,470.95 L414.41,474.25 L417.86,473.71 L421.32,475.08 L424.77,475.81 L428.22,475.63 L431.67,478.21 L435.12,478.56 L438.57,479.62 L442.02,479.24 L445.47,476.53 L448.92,479.58 L452.37,477.42 L455.82,477.93 L459.27,478.00" stroke="#1ee61e" stroke-width="1.4" fill="none" stroke-dasharray="3,2.2"/>
<path d="M46.90,476.54 L50.35,476.78 L53.80,479.55 L57.25,477.47 L60.70,480.57 L64.15,477.44 L67.61,480.03 L71.06,477.64 L74.51,479.93 L77.96,478.54 L81.41,475.75 L84.86,476.98 L88.31,475.03 L91.76,473.84 L95.21,472.59 L98.66,470.51 L102.11,473.25 L105.56,468.57 L109.02,469.62 L112.47,465.06 L115.92,466.77 L119.37,461.80 L122.82,458.96 L126.27,459.74 L129.72,454.75 L133.17,452.12 L136.62,452.73 L140.07,450.52 L143.52,447.99 L146.97,443.22 L150.43,441.82 L153.88,438.01 L157.33,437.97 L160.78,433.16 L164.23,432.32 L167.68,428.56 L171.13,425.75 L174.58,427.11 L178.03,421.13 L181.48,422.31 L184.93,418.14 L188.38,416.00 L191.84,417.84 L195.29,412.49 L198.74,412.03 L202.19,413.60 L205.64,409.76 L209.09,413.26 L212.54,408.16 L215.99,406.42 L219.42,407.66 L220.95,405.15 L222.85,407.13 L224.76,407.29 L226.29,407.66 L227.81,409.80 L229.72,407.29 L231.63,408.46 L233.16,408.73 L234.68,407.93 L236.59,410.71 L238.12,407.39 L239.65,407.39 L241.55,408.36 L243.46,406.33 L245.37,406.06 L246.90,404.45 L248.42,405.26 L249.95,404.72 L251.86,402.58 L252.57,403.12 L253.39,404.19 L254.10,404.99 L256.01,403.92 L257.92,402.58 L259.83,403.39 L260.97,404.45 L262.50,403.12 L264.40,400.45 L266.31,403.12 L267.84,399.91 L269.75,398.74 L271.27,400.45 L272.80,398.74 L274.71,401.25 L276.24,400.34 L278.53,400.34 L280.05,400.71 L281.58,402.48 L283.11,404.99 L285.01,404.08 L286.77,402.85 L288.45,405.52 L291.91,406.40 L295.36,407.50 L298.81,405.25 L302.26,406.58 L305.71,410.06 L309.16,410.58 L312.61,410.73 L316.07,414.25 L319.52,413.21 L322.97,418.22 L326.42,417.76 L329.87,421.90 L333.32,421.39 L336.77,426.58 L340.22,425.81 L343.67,431.41 L347.12,431.13 L350.57,436.48 L354.02,439.27 L357.48,439.37 L360.93,444.28 L364.38,446.97 L367.83,446.96 L371.28,452.35 L374.73,450.81 L378.18,452.74 L381.63,456.00 L385.08,460.36 L388.53,462.08 L391.98,462.41 L395.43,465.39 L398.89,467.44 L402.34,466.16 L405.79,470.35 L409.24,469.25 L412.69,471.20 L416.14,473.91 L419.59,473.43 L423.04,476.81 L426.49,474.62 L429.94,478.07 L433.39,478.48 L436.84,478.65 L440.30,476.72 L443.75,476.30 L447.20,480.07 L450.65,480.36 L454.10,477.74 L457.55,479.52 L461.00,477.53" stroke="#ff1a1a" stroke-width="1.05" fill="none"/>
</g>
<rect x="46.90" y="379.00" width="414.10" height="119.50" fill="none" stroke="#c6c6c6" stroke-width="1.6"/>
<path d="M115.92,498.50v-3.51M115.92,379.00v3.51M184.93,498.50v-3.51M184.93,379.00v3.51M253.95,498.50v-3.51M253.95,379.00v3.51M322.97,498.50v-3.51M322.97,379.00v3.51M391.98,498.50v-3.51M391.98,379.00v3.51M46.90,478.58h4.5M461.00,478.58h-4.5M46.90,458.67h4.5M461.00,458.67h-4.5M46.90,438.75h4.5M461.00,438.75h-4.5M46.90,418.83h4.5M461.00,418.83h-4.5M46.90,398.92h4.5M461.00,398.92h-4.5" stroke="#a4a4a4" stroke-width="1.0" fill="none"/>
<text x="43.00" y="502.39" font-size="8.4" text-anchor="end" textLength="15.60" lengthAdjust="spacingAndGlyphs" font-family='"Liberation Sans", Arial, sans-serif'>-10</text>
<text x="43.00" y="482.27" font-size="8.4" text-anchor="end" textLength="5.50" lengthAdjust="spacingAndGlyphs" font-family='"Liberation Sans", Arial, sans-serif'>0</text>
<text x="43.00" y="462.15" font-size="8.4" text-anchor="end" textLength="11.00" lengthAdjust="spacingAndGlyphs" font-family='"Liberation Sans", Arial, sans-serif'>10</text>
<text x="43.00" y="442.04" font-size="8.4" text-anchor="end" textLength="11.00" lengthAdjust="spacingAndGlyphs" font-family='"Liberation Sans", Arial, sans-serif'>20</text>
<text x="43.00" y="421.92" font-size="8.4" text-anchor="end" textLength="11.00" lengthAdjust="spacingAndGlyphs" font-family='"Liberation Sans", Arial, sans-serif'>30</text>
<text x="43.00" y="401.80" font-size="8.4" text-anchor="end" textLength="11.00" lengthAdjust="spacingAndGlyphs" font-family='"Liberation Sans", Arial, sans-serif'>40</text>
<text x="43.00" y="381.69" font-size="8.4" text-anchor="end" textLength="11.00" lengthAdjust="spacingAndGlyphs" font-family='"Liberation Sans", Arial, sans-serif'>50</text>
<text x="46.90" y="510.80" font-size="8.4" text-anchor="middle" textLength="5.50" lengthAdjust="spacingAndGlyphs" font-family='"Liberation Sans", Arial, sans-serif'>0</text>
<text x="115.92" y="510.80" font-size="8.4" text-anchor="middle" textLength="14.40" lengthAdjust="spacingAndGlyphs" font-family='"Liberation Sans", Arial, sans-serif'>0.2</text>
<text x="184.93" y="510.80" font-size="8.4" text-anchor="middle" textLength="14.40" lengthAdjust="spacingAndGlyphs" font-family='"Liberation Sans", Arial, sans-serif'>0.4</text>
<text x="253.95" y="510.80" font-size="8.4" text-anchor="middle" textLength="14.40" lengthAdjust="spacingAndGlyphs" font-family='"Liberation Sans", Arial, sans-serif'>0.6</text>
<text x="322.97" y="510.80" font-size="8.4" text-anchor="middle" textLength="14.40" lengthAdjust="spacingAndGlyphs" font-family='"Liberation Sans", Arial, sans-serif'>0.8</text>
<text x="391.98" y="510.80" font-size="8.4" text-anchor="middle" textLength="5.50" lengthAdjust="spacingAndGlyphs" font-family='"Liberation Sans", Arial, sans-serif'>1</text>
<text x="461.00" y="510.80" font-size="8.4" text-anchor="middle" textLength="14.40" lengthAdjust="spacingAndGlyphs" font-family='"Liberation Sans", Arial, sans-serif'>1.2</text>
<text x="233.70" y="521.80" font-size="8.9" textLength="41.00" lengthAdjust="spacingAndGlyphs" font-family='"Liberation Sans", Arial, sans-serif'>Time(s)</text>
<text transform="translate(22.70,469.00) rotate(-90)" font-size="11.6" textLength="61.00" lengthAdjust="spacingAndGlyphs" font-family='"Liberation Sans", Arial, sans-serif'>Velocity(deg/s)</text>
<text x="224.20" y="545.30" font-size="8.8" textLength="10.60" lengthAdjust="spacingAndGlyphs" font-family='"Liberation Serif", "Times New Roman", serif' style="fill:#000">(c)</text>
<text x="241.50" y="545.30" font-size="8.8" textLength="17.10" lengthAdjust="spacingAndGlyphs" font-family='"Liberation Serif", "Times New Roman", serif' style="fill:#000">2 kg</text>
<rect x="184.60" y="436.40" width="140.40" height="46.30" fill="#fff" stroke="none"/>
<clipPath id="ic3"><rect x="184.60" y="436.40" width="140.40" height="46.30"/></clipPath>
<g clip-path="url(#ic3)">
<path d="M184.60,462.16 L188.11,461.16 L191.62,460.24 L195.13,459.41 L198.64,458.65 L202.15,457.96 L205.66,457.35 L209.17,456.81 L212.68,456.33 L216.19,455.91 L219.70,455.54 L223.21,455.23 L226.72,454.96 L230.23,454.74 L233.74,454.56 L237.25,454.42 L240.76,454.31 L244.27,454.23 L247.78,454.18 L251.29,454.15 L254.80,454.14 L258.31,454.14 L261.82,454.16 L265.33,454.20 L268.84,454.27 L272.35,454.36 L275.86,454.48 L279.37,454.64 L282.88,454.83 L286.39,455.06 L289.90,455.33 L293.41,455.65 L296.92,456.02 L300.43,456.44 L303.94,456.91 L307.45,457.44 L310.96,458.03 L314.47,458.68 L317.98,459.40 L321.49,460.19 L325.00,461.06" stroke="#3030ff" stroke-width="1.3" fill="none"/>
<path d="M181.09,464.60 L184.55,473.39 L189.21,468.73 L193.87,465.62 L198.53,464.07 L205.52,463.29 L208.62,464.07 L212.50,471.83 L215.61,465.62 L220.27,463.29 L223.37,456.30 L226.48,463.29 L229.58,460.96 L232.69,460.19 L236.57,464.84 L239.68,470.28 L242.78,460.96 L244.34,453.66 L246.66,461.74 L249.77,458.63 L252.00,462.52 L254.33,467.17 L258.21,464.84 L262.09,458.63 L265.98,460.19 L269.08,464.84 L272.96,461.74 L275.29,460.50 L279.17,464.84 L282.28,459.41 L285.39,458.63 L289.27,464.07 L293.15,468.73 L297.03,459.41 L300.91,465.62 L304.80,466.40 L307.90,462.52 L311.01,458.63 L314.11,472.61 L317.22,470.28 L321.10,467.17 L324.98,465.62" stroke="#1ee61e" stroke-width="1.7" fill="none" stroke-dasharray="4.5,3"/>
<path d="M177.58,469.79 L184.55,473.39 L187.66,466.09 L191.54,471.83 L195.42,472.30 L198.53,473.39 L201.63,479.60 L205.52,472.30 L209.40,475.71 L212.50,476.49 L215.61,474.16 L219.49,482.24 L222.60,472.61 L225.70,472.61 L229.58,475.40 L233.47,469.50 L237.35,468.73 L240.45,464.07 L243.56,466.40 L246.66,464.84 L250.55,458.63 L252.00,460.19 L253.65,463.29 L255.11,465.62 L258.99,462.52 L262.87,458.63 L266.75,460.96 L269.08,464.07 L272.19,460.19 L276.07,452.42 L279.95,460.19 L283.06,450.87 L286.94,447.45 L290.04,452.42 L293.15,447.45 L297.03,454.75 L300.14,452.11 L304.80,452.11 L307.90,453.20 L311.01,458.32 L314.11,465.62 L317.99,462.98 L321.57,459.41 L324.98,467.17 L332.02,469.72" stroke="#ff1a1a" stroke-width="1.2" fill="none"/>
</g>
<rect x="184.60" y="436.40" width="140.40" height="46.30" fill="none" stroke="#c6c6c6" stroke-width="1.2"/>
<path d="M219.70,482.70v-1.95M219.70,436.40v1.95M254.80,482.70v-1.95M254.80,436.40v1.95M289.90,482.70v-1.95M289.90,436.40v1.95M184.60,471.12h2.5M325.00,471.12h-2.5M184.60,459.55h2.5M325.00,459.55h-2.5M184.60,447.97h2.5M325.00,447.97h-2.5" stroke="#a4a4a4" stroke-width="1.0" fill="none"/>
<text x="182.00" y="485.30" font-size="5.2" text-anchor="end" textLength="6.80" lengthAdjust="spacingAndGlyphs" font-family='"Liberation Sans", Arial, sans-serif' style="stroke:none;fill:#2a2a2a">34</text>
<text x="182.00" y="473.73" font-size="5.2" text-anchor="end" textLength="6.80" lengthAdjust="spacingAndGlyphs" font-family='"Liberation Sans", Arial, sans-serif' style="stroke:none;fill:#2a2a2a">36</text>
<text x="182.00" y="462.15" font-size="5.2" text-anchor="end" textLength="6.80" lengthAdjust="spacingAndGlyphs" font-family='"Liberation Sans", Arial, sans-serif' style="stroke:none;fill:#2a2a2a">38</text>
<text x="182.00" y="450.57" font-size="5.2" text-anchor="end" textLength="6.80" lengthAdjust="spacingAndGlyphs" font-family='"Liberation Sans", Arial, sans-serif' style="stroke:none;fill:#2a2a2a">40</text>
<text x="182.00" y="439.00" font-size="5.2" text-anchor="end" textLength="6.80" lengthAdjust="spacingAndGlyphs" font-family='"Liberation Sans", Arial, sans-serif' style="stroke:none;fill:#2a2a2a">42</text>
<text x="184.60" y="490.30" font-size="5.2" text-anchor="middle" textLength="8.50" lengthAdjust="spacingAndGlyphs" font-family='"Liberation Sans", Arial, sans-serif' style="stroke:none;fill:#2a2a2a">0.5</text>
<text x="219.70" y="490.30" font-size="5.2" text-anchor="middle" textLength="11.90" lengthAdjust="spacingAndGlyphs" font-family='"Liberation Sans", Arial, sans-serif' style="stroke:none;fill:#2a2a2a">0.55</text>
<text x="254.80" y="490.30" font-size="5.2" text-anchor="middle" textLength="8.50" lengthAdjust="spacingAndGlyphs" font-family='"Liberation Sans", Arial, sans-serif' style="stroke:none;fill:#2a2a2a">0.6</text>
<text x="289.90" y="490.30" font-size="5.2" text-anchor="middle" textLength="11.90" lengthAdjust="spacingAndGlyphs" font-family='"Liberation Sans", Arial, sans-serif' style="stroke:none;fill:#2a2a2a">0.65</text>
<text x="325.00" y="490.30" font-size="5.2" text-anchor="middle" textLength="8.50" lengthAdjust="spacingAndGlyphs" font-family='"Liberation Sans", Arial, sans-serif' style="stroke:none;fill:#2a2a2a">0.7</text>
</svg>
</body></html>
